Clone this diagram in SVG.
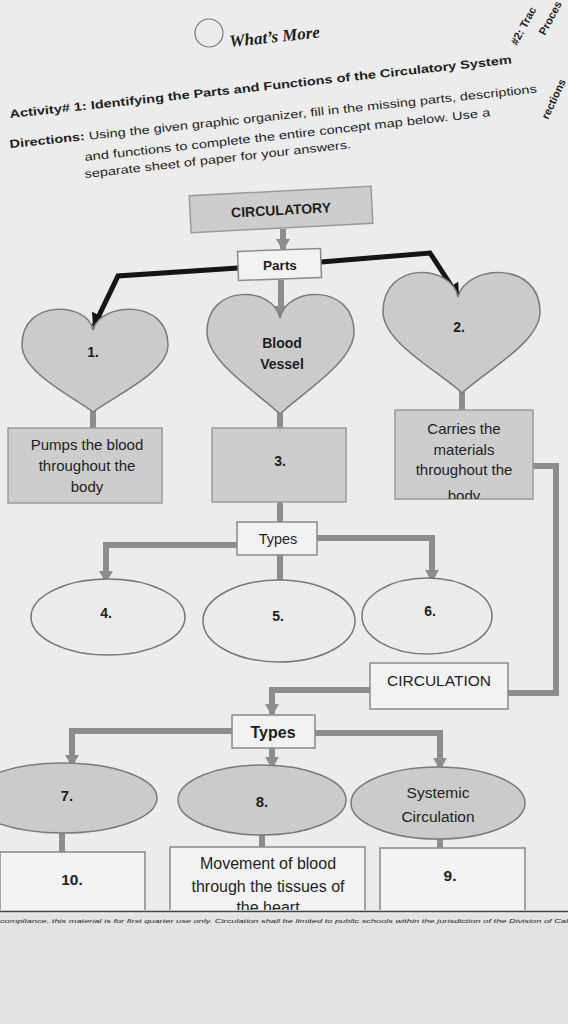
<svg xmlns="http://www.w3.org/2000/svg" width="568" height="1024" viewBox="0 0 568 1024">
<defs>
<style>
.t{font-family:"Liberation Sans",Arial,sans-serif;fill:#1e1e1e}
.b{font-weight:bold}
.c{text-anchor:middle}
.shape{fill:#cbcbcb;stroke:#7a7a7a;stroke-width:1.5}
.box{fill:#cdcdcd;stroke:#9a9a9a;stroke-width:1.5}
.wbox{fill:#f2f2f2;stroke:#8a8a8a;stroke-width:1.5}
.ell{fill:#ebebeb;stroke:#777;stroke-width:1.5}
.gc{fill:none;stroke:#8d8d8d;stroke-width:6}
.bc{fill:none;stroke:#151515;stroke-width:5}
</style>
<marker id="ag" markerUnits="userSpaceOnUse" markerWidth="16" markerHeight="14" refX="10" refY="7" orient="auto">
<path d="M0,0 L12,7 L0,14 z" fill="#8d8d8d"/>
</marker>
<marker id="ab" markerUnits="userSpaceOnUse" markerWidth="18" markerHeight="16" refX="12" refY="8" orient="auto">
<path d="M0,0 L14,8 L0,16 z" fill="#151515"/>
</marker>
<clipPath id="clip3"><rect x="395" y="410" width="138" height="89"/></clipPath>
<clipPath id="clipB"><rect x="0" y="840" width="568" height="70"/></clipPath>
<clipPath id="clipS"><ellipse cx="438" cy="803" rx="87" ry="36"/></clipPath>
</defs>
<rect width="568" height="1024" fill="#ececec"/>
<rect y="914" width="568" height="110" fill="#e3e3e3"/>

<g id="header">
<circle cx="209" cy="33" r="14" fill="none" stroke="#777" stroke-width="1.2"/>
<text x="230" y="47" font-size="17" font-weight="bold" font-style="italic" fill="#1e1e1e" transform="rotate(-6 230 47)" style="font-family:'Liberation Serif',serif">What’s More</text>
<text class="t b" x="10" y="118" font-size="11.5" transform="rotate(-6.2 10 118)" textLength="505" lengthAdjust="spacingAndGlyphs">Activity# 1: Identifying the Parts and Functions of the Circulatory System</text>
<text class="t" x="10" y="148" font-size="11.5" transform="rotate(-6 10 148)" textLength="530" lengthAdjust="spacingAndGlyphs"><tspan class="b">Directions:</tspan> Using the given graphic organizer, fill in the missing parts, descriptions</text>
<text class="t" x="85" y="161" font-size="11.5" transform="rotate(-6.3 85 161)" textLength="408" lengthAdjust="spacingAndGlyphs">and functions to complete the entire concept map below. Use a</text>
<text class="t" x="85" y="178" font-size="11.5" transform="rotate(-6.4 85 178)" textLength="268" lengthAdjust="spacingAndGlyphs">separate sheet of paper for your answers.</text>
<text class="t b" x="517" y="46" font-size="11" transform="rotate(-62 517 46)">#2: Trac</text>
<text class="t b" x="545" y="36" font-size="11" transform="rotate(-62 545 36)">Proces</text>
<text class="t b" x="548" y="120" font-size="11" transform="rotate(-65 548 120)">rections</text>
</g>

<g id="connectors">
<path class="gc" d="M283,229 V249" marker-end="url(#ag)"/>
<path class="gc" d="M281,280 V316" marker-end="url(#ag)"/>
<path class="bc" d="M238,268 L118,276 L94,326" marker-end="url(#ab)"/>
<path class="bc" d="M321,262 L430,253 L458,296" marker-end="url(#ab)"/>
<path class="gc" d="M93,411 V428"/>
<path class="gc" d="M280,413 V428"/>
<path class="gc" d="M462,392 V411"/>
<path class="gc" d="M280,502 V522"/>
<path class="gc" d="M237,545 H106 V581" marker-end="url(#ag)"/>
<path class="gc" d="M317,538 H432 V580" marker-end="url(#ag)"/>
<path class="gc" d="M280,555 V580"/>
<path class="gc" d="M533,466 H556 V693 H508"/>
<path class="gc" d="M370,690 H272 V714" marker-end="url(#ag)"/>
<path class="gc" d="M232,731 H72 V765" marker-end="url(#ag)"/>
<path class="gc" d="M272,748 V767" marker-end="url(#ag)"/>
<path class="gc" d="M315,733 H440 V768" marker-end="url(#ag)"/>
<path class="gc" d="M62,832 V854"/>
<path class="gc" d="M262,834 V848"/>
<path class="gc" d="M440,838 V849"/>
</g>

<g id="circulatory">
<rect class="box" x="190" y="191" width="182" height="37" transform="rotate(-3 281 209)"/>
<text class="t b c" x="281" y="215" font-size="14" transform="rotate(-3 281 209)">CIRCULATORY</text>
</g>
<g id="parts">
<rect class="wbox" x="238" y="250" width="83" height="29" transform="rotate(-2 279 264)"/>
<text class="t b c" x="280" y="270" font-size="13.5">Parts</text>
</g>

<g id="heart1">
<path class="shape" d="M93,330 C88,302 22,298 22,345 C22,372 70,395 93,412 C116,395 168,372 168,345 C168,298 100,302 93,330 Z"/>
<text class="t b c" x="93" y="357" font-size="14">1.</text>
</g>
<g id="heart2">
<path class="shape" d="M280,318 C274,286 207,283 207,332 C207,362 258,393 280,414 C302,393 354,362 354,332 C354,283 286,286 280,318 Z"/>
<text class="t b c" x="282" y="348" font-size="14">Blood</text>
<text class="t b c" x="282" y="369" font-size="14">Vessel</text>
</g>
<g id="heart3">
<path class="shape" d="M458,297 C452,264 383,260 383,312 C383,342 437,370 462,393 C487,370 540,342 540,312 C540,260 466,264 458,297 Z"/>
<text class="t b c" x="459" y="332" font-size="14">2.</text>
</g>

<g id="box1">
<rect class="box" x="8" y="428" width="154" height="75"/>
<text class="t c" x="87" y="450" font-size="15">Pumps the blood</text>
<text class="t c" x="87" y="471" font-size="15">throughout the</text>
<text class="t c" x="87" y="492" font-size="15">body</text>
</g>
<g id="box2">
<rect class="box" x="212" y="428" width="134" height="74"/>
<text class="t b c" x="280" y="466" font-size="14">3.</text>
</g>
<g id="box3">
<rect class="box" x="395" y="410" width="138" height="89"/>
<g clip-path="url(#clip3)">
<text class="t c" x="464" y="434" font-size="15">Carries the</text>
<text class="t c" x="464" y="455" font-size="15">materials</text>
<text class="t c" x="464" y="475" font-size="15">throughout the</text>
<text class="t c" x="464" y="501" font-size="15">body</text>
</g>
</g>

<g id="types1">
<rect class="wbox" x="237" y="522" width="80" height="33"/>
<text class="t c" x="278" y="544" font-size="14.5">Types</text>
</g>
<g id="ellipse4">
<ellipse class="ell" cx="108" cy="617" rx="77" ry="38"/>
<text class="t b c" x="106" y="618" font-size="14">4.</text>
</g>
<g id="ellipse5">
<ellipse class="ell" cx="279" cy="621" rx="76" ry="41"/>
<text class="t b c" x="278" y="621" font-size="14">5.</text>
</g>
<g id="ellipse6">
<ellipse class="ell" cx="427" cy="616" rx="65" ry="38"/>
<text class="t b c" x="430" y="616" font-size="14">6.</text>
</g>

<g id="circulation">
<rect class="wbox" x="370" y="663" width="138" height="46"/>
<text class="t c" x="439" y="686" font-size="15.5">CIRCULATION</text>
</g>
<g id="types2">
<rect class="wbox" x="232" y="715" width="83" height="33"/>
<text class="t b c" x="273" y="738" font-size="16">Types</text>
</g>
<g id="ellipse7">
<ellipse class="shape" cx="63" cy="798" rx="94" ry="35"/>
<text class="t b c" x="67" y="801" font-size="15">7.</text>
</g>
<g id="ellipse8">
<ellipse class="shape" cx="262" cy="800" rx="84" ry="35"/>
<text class="t b c" x="262" y="807" font-size="15">8.</text>
</g>
<g id="systemic">
<ellipse class="shape" cx="438" cy="803" rx="87" ry="36"/>
<g clip-path="url(#clipS)">
<text class="t c" x="438" y="798" font-size="15.5">Systemic</text>
<text class="t c" x="438" y="822" font-size="15.5">Circulation</text>
</g>
</g>

<g id="box10">
<path d="M0,910 V852 H145 V910" fill="#f3f3f3" stroke="#888" stroke-width="1.5"/>
<text class="t b c" x="72" y="885" font-size="15.5">10.</text>
</g>
<g id="boxmove">
<path d="M170,910 V847 H365 V910" fill="#f3f3f3" stroke="#888" stroke-width="1.5"/>
<g clip-path="url(#clipB)">
<text class="t c" x="268" y="869" font-size="16">Movement of blood</text>
<text class="t c" x="268" y="892" font-size="16">through the tissues of</text>
<text class="t c" x="268" y="913" font-size="16">the heart</text>
</g>
</g>
<g id="box9">
<path d="M380,910 V848 H525 V910" fill="#f3f3f3" stroke="#888" stroke-width="1.5"/>
<text class="t b c" x="450" y="881" font-size="15.5">9.</text>
</g>

<g id="footer">
<line x1="0" y1="911.5" x2="568" y2="911.5" stroke="#444" stroke-width="1.5"/>
<text class="t" x="0" y="923" font-size="5.6" font-style="italic" fill="#555" textLength="568" lengthAdjust="spacingAndGlyphs">compliance, this material is for first quarter use only. Circulation shall be limited to public schools within the jurisdiction of the Division of Cal</text>
</g>
</svg>
